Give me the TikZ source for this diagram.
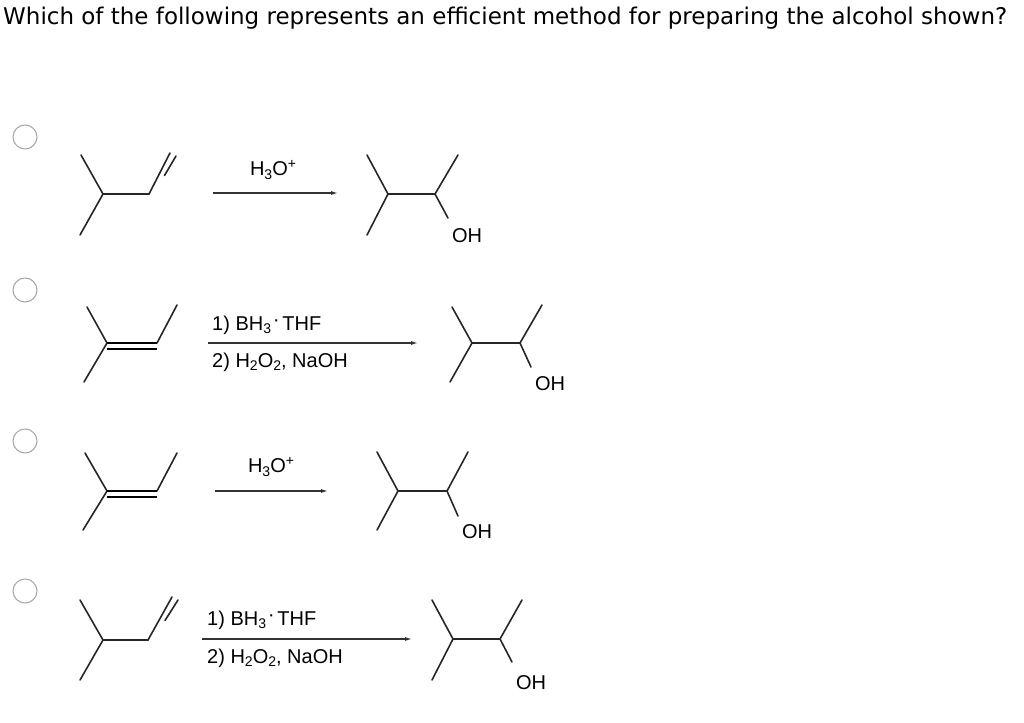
\documentclass[tikz,border=0pt]{standalone}
\usepackage{fontspec}
\usetikzlibrary{calc,arrows.meta}
\setmainfont{Liberation Sans}
\newfontfamily\titlefont{DejaVu Sans}
\newcommand{\chsub}[1]{\raisebox{-0.35ex}{\fontsize{14}{14}\selectfont #1}}
\newcommand{\chsup}[1]{\raisebox{0.7ex}{\fontsize{14}{14}\selectfont #1}}
\newcommand{\chdot}{\,\raisebox{0.45ex}{\fontsize{14}{14}\selectfont\textbf{·}}\,}
\begin{document}
\begin{tikzpicture}[x=1pt,y=-1pt,
  bond/.style={line width=1.6pt,draw=black!85,line cap=round},
  dbl/.style={line width=2.2pt,draw=black},
  rxn/.style={line width=1.2pt,draw=black!80,-{Latex[length=7pt,width=4pt]}},
  lab/.style={font=\fontsize{20}{22}\selectfont,inner sep=0pt},
  radio/.style={circle,draw=black!35,line width=1pt,minimum size=24pt,inner sep=0pt}]
\useasboundingbox (0,0) rectangle (1024,722);
\node[anchor=west,inner sep=0pt] (title) at (3,18) {\resizebox{1004pt}{!}{\titlefont Which of the following represents an efficient method for preparing the alcohol shown?}};
\foreach \y/\n in {137/r1,290/r2,441/r3,591/r4} \node[radio] (\n) at (25,\y) {};
% row 1
\coordinate (a1) at (103,194); \coordinate (a2) at (149,194);
\draw[bond] (81,155) -- (a1) -- (80,235); \draw[bond] (a1) -- (a2) -- (170,153);
\draw[bond] ($(a2)!0.5!(170,153)+(5,2)$) -- ($(170,153)+(6,3)$);
\coordinate (s1) at (213,193); \coordinate (e1) at (338,193);
\draw[rxn] (s1) -- (e1);
\node[lab] (l1) at (273,170) {H\chsub{3}O\chsup{+}};
\coordinate (p1) at (388,194); \coordinate (q1) at (435,194); \coordinate (o1) at (448,218);
\draw[bond] (367,155) -- (p1) -- (367,235); \draw[bond] (p1) -- (q1) -- (458,155); \draw[bond] (q1) -- (o1);
\node[lab] (oh1) at (467,236) {OH};
% row 2
\coordinate (b1) at (107,343); \coordinate (b2) at (157,343);
\draw[bond] (87,307) -- (b1) -- (84,382); \draw[bond] (b2) -- (177,305);
\draw[dbl] (b1) -- (b2); \draw[dbl] ($(b1)+(0,6)$) -- ($(b2)+(0,6)$);
\coordinate (s2) at (208,343); \coordinate (e2) at (418,343);
\draw[rxn] (s2) -- (e2);
\node[lab,anchor=west] (l2a) at (212,325) {1) BH\chsub{3}\chdot THF};
\node[lab,anchor=west] (l2b) at (212,362) {2) H\chsub{2}O\chsub{2}, NaOH};
\coordinate (p2) at (472,343); \coordinate (q2) at (520,343); \coordinate (o2) at (531,367);
\draw[bond] (452,307) -- (p2) -- (450,382); \draw[bond] (p2) -- (q2) -- (542,305); \draw[bond] (q2) -- (o2);
\node[lab] (oh2) at (550,384) {OH};
% row 3
\coordinate (c1) at (107,491); \coordinate (c2) at (157,491);
\draw[bond] (85,453) -- (c1) -- (83,530); \draw[bond] (c2) -- (177,453);
\draw[dbl] (c1) -- (c2); \draw[dbl] ($(c1)+(0,6)$) -- ($(c2)+(0,6)$);
\coordinate (s3) at (215,491); \coordinate (e3) at (328,491);
\draw[rxn] (s3) -- (e3);
\node[lab] (l3) at (271,467) {H\chsub{3}O\chsup{+}};
\coordinate (p3) at (398,491); \coordinate (q3) at (447,491); \coordinate (o3) at (458,516);
\draw[bond] (377,452) -- (p3) -- (377,530); \draw[bond] (p3) -- (q3) -- (468,452); \draw[bond] (q3) -- (o3);
\node[lab] (oh3) at (477,532) {OH};
% row 4
\coordinate (d1) at (103,640); \coordinate (d2) at (148,640);
\draw[bond] (80,600) -- (d1) -- (80,680); \draw[bond] (d1) -- (d2) -- (172,597);
\draw[bond] ($(d2)!0.5!(172,597)+(5,2)$) -- ($(172,597)+(6,3)$);
\coordinate (s4) at (202,639); \coordinate (e4) at (412,639);
\draw[rxn] (s4) -- (e4);
\node[lab,anchor=west] (l4a) at (207,620) {1) BH\chsub{3}\chdot THF};
\node[lab,anchor=west] (l4b) at (207,658) {2) H\chsub{2}O\chsub{2}, NaOH};
\coordinate (p4) at (453,639); \coordinate (q4) at (500,639); \coordinate (o4) at (512,662);
\draw[bond] (432,600) -- (p4) -- (432,680); \draw[bond] (p4) -- (q4) -- (522,600); \draw[bond] (q4) -- (o4);
\node[lab] (oh4) at (531,683) {OH};
\end{tikzpicture}
\end{document}
